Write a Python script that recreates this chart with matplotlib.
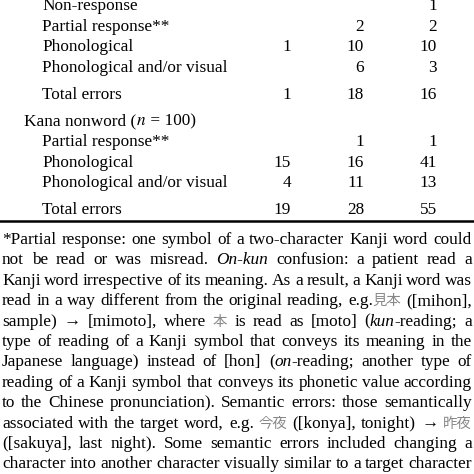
import re
import matplotlib
matplotlib.use("Agg")
import matplotlib.pyplot as plt

plt.rcParams["mathtext.fontset"] = "stix"

row_labels = ["Non-response", "Partial response**", "Phonological", "Phonological and/or visual",
              "Total errors", "KANA", "Partial response**", "Phonological",
              "Phonological and/or visual", "Total errors"]
col1 = ["", "", "1", "", "1", None, "", "15", "4", "19"]
col2 = ["", "2", "10", "6", "18", None, "1", "16", "11", "28"]
col3 = ["1", "2", "10", "3", "16", None, "1", "41", "13", "55"]
row_y = [5, 26, 46, 67, 94, 120, 141, 162, 182, 209]

foot_lines = [
    "*Partial response: one symbol of a two-character Kanji word could",
    "not be read or was misread. _On-kun_ confusion: a patient read a",
    "Kanji word irrespective of its meaning. As a result, a Kanji word was",
    "read in a way different from the original reading, e.g.{見本} ([mihon],",
    "sample) → [mimoto], where {本} is read as [moto] (_kun_-reading; a",
    "type of reading of a Kanji symbol that conveys its meaning in the",
    "Japanese language) instead of [hon] (_on_-reading; another type of",
    "reading of a Kanji symbol that conveys its phonetic value according",
    "to the Chinese pronunciation). Semantic errors: those semantically",
    "associated with the target word, e.g. {今夜} ([konya], tonight) → {昨夜}",
    "([sakuya], last night). Some semantic errors included changing a",
    "character into another character visually similar to a target character",
]

W = H = 474
fig = plt.figure(figsize=(4.74, 4.74), dpi=100)
fig.patch.set_facecolor("white")
ax = fig.add_axes([0, 0, 1, 1])
ax.set_xlim(0, W); ax.set_ylim(H, 0); ax.axis("off")
FS = 12.4
SERIF = "Liberation Serif"
renderer = fig.canvas.get_renderer()

def put(x, y, s, style="n", ha="left"):
    kw = dict(fontsize=FS, va="baseline", ha=ha, color="black")
    if style == "j":
        kw.update(family="Noto Sans CJK JP", color="#888888", fontsize=FS - 2)
    else:
        kw.update(family=SERIF)
        if style == "i":
            kw.update(style="italic")
    return ax.text(x, y, s, **kw)

def width(t):
    return t.get_window_extent(renderer=renderer).width

BASE = 5
for lab, a, b, c, y in zip(row_labels, col1, col2, col3, row_y):
    yb = y + BASE
    if lab == "KANA":
        t = put(24, yb, "Kana nonword (")
        x = 24 + width(t)
        t = put(x, yb, "$n$")
        x += width(t)
        put(x, yb, " = 100)")
        continue
    put(42, yb, lab)
    for xv, v in zip([291, 364, 437], [a, b, c]):
        if v:
            put(xv, yb, v, ha="right")

ax.plot([0, W], [221, 221], color="black", lw=1.8)

def parse(word):
    segs = []
    for m in re.finditer(r"\{([^}]*)\}|_([^_]*)_|([^{_]+)", word):
        if m.group(1) is not None:
            segs.append((m.group(1), "j"))
        elif m.group(2) is not None:
            segs.append((m.group(2), "i"))
        else:
            segs.append((m.group(3), "n"))
    return segs

x0, x1 = 2, 472
for i, line in enumerate(foot_lines):
    yb = 244 + i * 20.4
    words = line.split(" ")
    items = []
    total = 0
    for w in words:
        segs = []
        ww = 0
        for s, st in parse(w):
            t = put(0, yb, s, st)
            wd = width(t)
            segs.append((t, wd))
            ww += wd
        items.append((segs, ww))
        total += ww
    gap = (x1 - x0 - total) / max(len(words) - 1, 1)
    x = x0
    for segs, ww in items:
        for t, wd in segs:
            t.set_x(x)
            x += wd
        x += gap

fig.savefig("out.png", dpi=100, facecolor="white")
